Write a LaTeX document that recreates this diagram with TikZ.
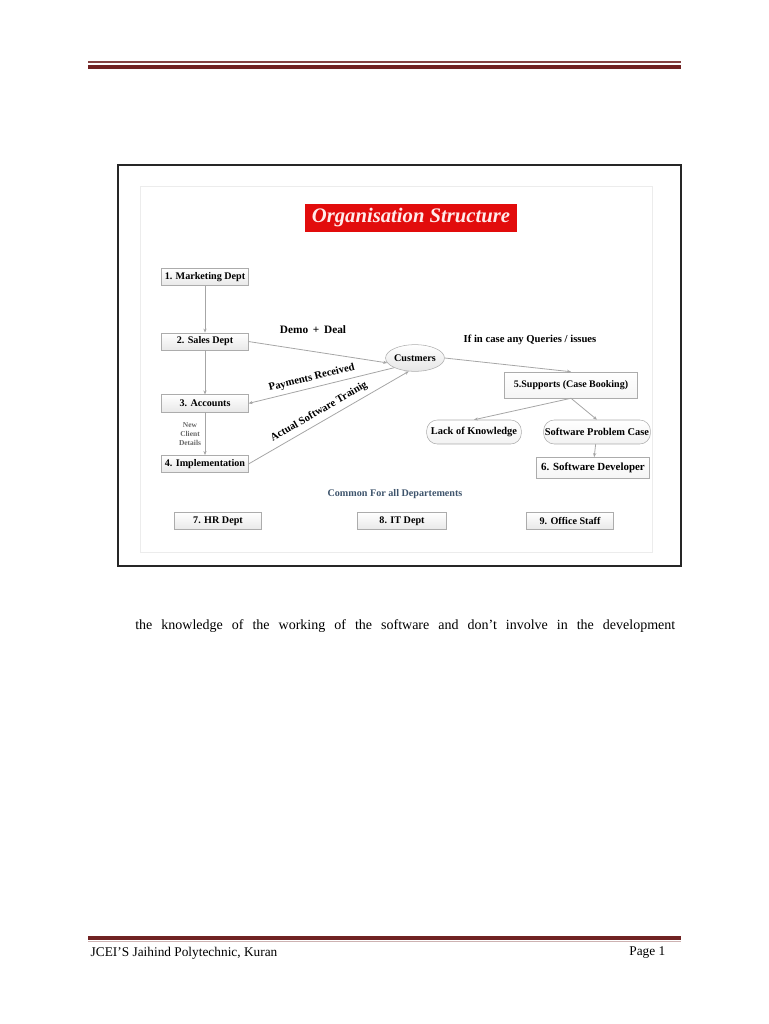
\documentclass[tikz,border=0pt]{standalone}
\usepackage{fontspec}
\setmainfont{Liberation Serif}
\usepackage{xcolor}
\usetikzlibrary{shapes.geometric,arrows.meta,positioning,calc}

\definecolor{maroon}{RGB}{112,34,34}
\definecolor{titlered}{RGB}{226,12,12}
\definecolor{slateblue}{RGB}{62,84,108}

\begin{document}
\begin{tikzpicture}[x=0.75pt, y=-0.75pt,
  node distance = 34pt and 12mm,
  box/.style   = {rectangle, draw=gray!65, top color=white, bottom color=gray!18,
                  minimum width=65pt, minimum height=13pt, inner sep=1pt,
                  text centered, font=\fontsize{7.6}{8}\selectfont\bfseries},
  wbox/.style  = {box, top color=white, bottom color=gray!8},
  pill/.style  = {box, rounded corners=8pt, minimum height=18pt,
                  top color=white, bottom color=gray!10,
                  font=\fontsize{7.8}{9}\selectfont\bfseries},
  oval/.style  = {ellipse, draw=gray!65, top color=white, bottom color=gray!20,
                  minimum width=43pt, minimum height=20pt, inner sep=0pt,
                  font=\fontsize{7.6}{8}\selectfont\bfseries},
  lbl/.style   = {font=\fontsize{8}{9}\selectfont\bfseries},
  arr/.style   = {-{Stealth[length=3pt,width=2.4pt]}, draw=gray!70, line width=0.6pt}
]
\useasboundingbox (0,0) rectangle (768,1024);

% -- page header / footer --
\draw[maroon!85, line width=0.8pt] (88,62) -- (681,62);
\draw[maroon, line width=3pt] (88,67) -- (681,67);
\draw[maroon, line width=3pt] (88,938) -- (681,938);
\draw[maroon!35, line width=1pt] (88,941.5) -- (681,941.5);
\node[anchor=west, font=\fontsize{10}{12}\selectfont] (school) at (86,953)
      {JCEI'S Jaihind Polytechnic, Kuran};
\node[anchor=east, font=\fontsize{10}{12}\selectfont] (page) at (670,953) {Page 1};

% -- slide frame --
\draw[black!85, line width=1.2pt] (118,165) rectangle (681,566);
\draw[gray!15, line width=0.6pt] (140,186) rectangle (652,552);

% -- title --
\node[fill=titlered, minimum width=159pt, minimum height=21pt, inner sep=0pt,
      text=red!8, font=\fontsize{15.5}{18}\selectfont\bfseries\itshape]
      (title) at (411,218) {Organisation Structure};

% -- left column --
\node[box] (mkt) at (205,277) {1. Marketing Dept};
\node[box, below=35pt of mkt]  (sales) {2. Sales Dept};
\node[box, below=33pt of sales] (acc)   {3. Accounts};
\node[box, below=32pt of acc]  (impl)  {4. Implementation};

\node[font=\fontsize{5.6}{7}\selectfont\bfseries, align=center, text=gray!80!black]
      (newcl) at (190,434) {New\\Client\\Details};

% -- customer and support --
\node[oval] (cust) at (415,358) {Custmers};
\node[wbox, minimum width=100pt, minimum height=19.5pt,
      font=\fontsize{7.5}{9}\selectfont\bfseries] (supp) at (571,385)
      {5.Supports (Case Booking)};
\node[pill, minimum width=71pt] (lack) at (474,432) {Lack of Knowledge};
\node[pill, minimum width=79pt] (swp)  at (597,432) {Software Problem Case};
\node[wbox, minimum width=85pt, minimum height=16pt,
      font=\fontsize{8.2}{9}\selectfont\bfseries] (dev) at (593,468)
      {6. Software Developer};

\node[lbl, font=\fontsize{8.5}{10}\selectfont\bfseries] (demo) at (313,330) {Demo \,+\, Deal};
\node[font=\fontsize{8}{9}\selectfont\bfseries] (query) at (530,340)
      {If in case any Queries / issues};

% -- common departments --
\node[font=\fontsize{7.6}{9}\selectfont\bfseries, text=slateblue] (common) at (395,494)
      {Common For all Departements};
\node[box] (hr) at (218,521) {7. HR Dept};
\node[box, minimum width=67pt] (it) at (402,521) {8. IT Dept};
\node[box] (office) at (570,521) {9. Office Staff};

% -- arrows --
\draw[arr] (mkt)   -- (sales);
\draw[arr] (sales) -- (acc);
\draw[arr] (acc)   -- (impl);
\draw[arr] (sales.east) -- (cust.190);
\draw[arr] (cust.205) -- node[lbl, sloped, above=0pt, pos=0.55]{Payments Received} (acc.east);
\draw[arr] (impl.east) -- node[lbl, sloped, above=0pt, pos=0.47]{Actual Software Trainig} (cust.245);
\draw[arr] (cust.east) -- (supp.north);
\draw[arr] (supp.south) -- (lack.north);
\draw[arr] (supp.south) -- (swp.north);
\draw[arr] (swp) -- (dev);

% -- body text --
\node[anchor=west, font=\fontsize{10.5}{12}\selectfont, inner sep=0pt] (body) at (135,626)
      {\makebox[405pt][s]{the knowledge of the working of the software and don't involve in the development}};

\end{tikzpicture}
\end{document}
